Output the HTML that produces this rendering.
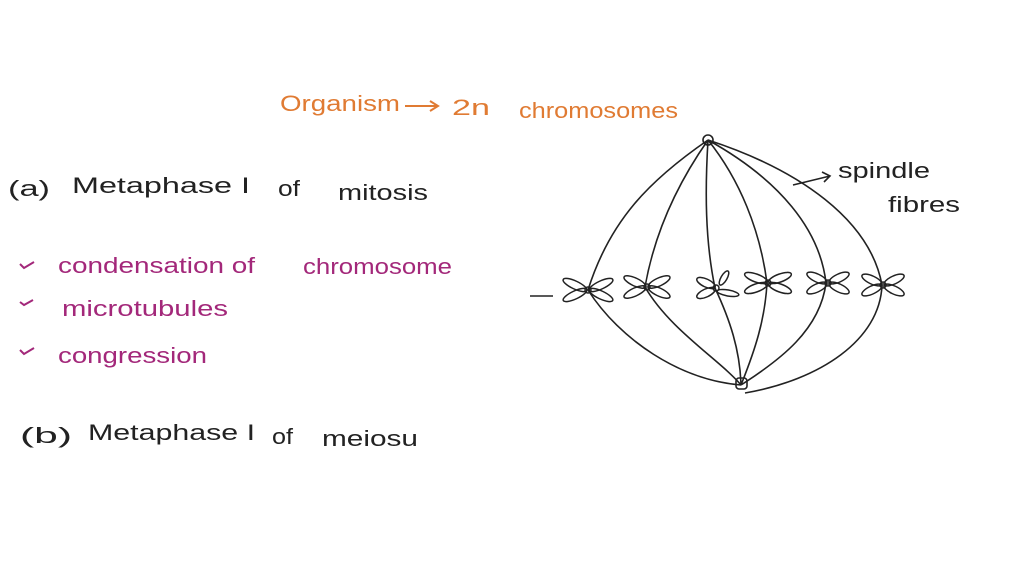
<!DOCTYPE html>
<html><head><meta charset="utf-8"><style>
html,body{margin:0;padding:0;background:#fff;}
svg{display:block;}
text{font-family:"Liberation Sans","DejaVu Sans",sans-serif;}
</style></head><body>
<svg width="1024" height="576" viewBox="0 0 1024 576" xmlns="http://www.w3.org/2000/svg">
<rect width="1024" height="576" fill="#fff"/>
<g font-size="22" fill="#e07b33">
<text x="280" y="111" textLength="120" lengthAdjust="spacingAndGlyphs">Organism</text>
<text x="452" y="115" textLength="38" lengthAdjust="spacingAndGlyphs">2n</text>
<text x="519" y="118" textLength="159" lengthAdjust="spacingAndGlyphs">chromosomes</text>
</g>
<path d="M405 106 L438 106 M430 101 L438 106 L430 111" stroke="#e07b33" stroke-width="2" fill="none"/>
<g font-size="22" fill="#222">
<text x="8" y="196" textLength="42" lengthAdjust="spacingAndGlyphs">(a)</text>
<text x="72" y="193" textLength="178" lengthAdjust="spacingAndGlyphs">Metaphase I</text>
<text x="278" y="196" textLength="22" lengthAdjust="spacingAndGlyphs">of</text>
<text x="338" y="200" textLength="90" lengthAdjust="spacingAndGlyphs">mitosis</text>
<text x="20" y="443" textLength="52" lengthAdjust="spacingAndGlyphs">(b)</text>
<text x="88" y="440" textLength="167" lengthAdjust="spacingAndGlyphs">Metaphase I</text>
<text x="272" y="444" textLength="21" lengthAdjust="spacingAndGlyphs">of</text>
<text x="322" y="446" textLength="96" lengthAdjust="spacingAndGlyphs">meiosu</text>
<text x="838" y="178" textLength="92" lengthAdjust="spacingAndGlyphs">spindle</text>
<text x="888" y="212" textLength="72" lengthAdjust="spacingAndGlyphs">fibres</text>
</g>
<g font-size="22" fill="#a3287a">
<text x="58" y="273" textLength="197" lengthAdjust="spacingAndGlyphs">condensation of</text>
<text x="303" y="274" textLength="149" lengthAdjust="spacingAndGlyphs">chromosome</text>
<text x="62" y="316" textLength="166" lengthAdjust="spacingAndGlyphs">microtubules</text>
<text x="58" y="363" textLength="149" lengthAdjust="spacingAndGlyphs">congression</text>
</g>
<g stroke="#a3287a" stroke-width="2" fill="none">
<path d="M20 264 l4 4 l10 -6"/><path d="M20 302 l4 3 l9 -5"/><path d="M20 350 l4 4 l10 -6"/>
</g>
<g stroke="#222" stroke-width="1.6" fill="none">
<path d="M793 185 L830 176 M822 172 L830 176 L824 182"/>
<path d="M530 296 L553 296"/>
<path d="M708 140 C650 180 610 220 588 290"/>
<path d="M708 140 C680 180 655 230 645 287"/>
<path d="M708 140 C705 190 705 240 715 288"/>
<path d="M708 140 C740 180 760 230 767 283"/>
<path d="M708 140 C780 180 820 230 826 283"/>
<path d="M708 140 C800 170 870 220 882 285"/>
<path d="M588 290 C620 340 680 380 741 385"/>
<path d="M645 287 C670 330 720 360 741 385"/>
<path d="M715 288 C730 320 740 350 741 385"/>
<path d="M767 283 C765 320 755 350 741 385"/>
<path d="M826 283 C820 330 780 360 741 385"/>
<path d="M882 285 C880 340 820 380 745 393"/>
<circle cx="708" cy="140" r="5"/>
<rect x="736" y="378" width="11" height="11" rx="3"/>
</g>
<g stroke="#222" stroke-width="1.5" fill="none">
<g transform="translate(588,290)"><ellipse cx="-13" cy="-5" rx="13" ry="4" transform="rotate(25 -13 -5)"/><ellipse cx="13" cy="-5" rx="13" ry="4" transform="rotate(-25 13 -5)"/><ellipse cx="-13" cy="5" rx="13" ry="4" transform="rotate(-25 -13 5)"/><ellipse cx="13" cy="5" rx="13" ry="4" transform="rotate(25 13 5)"/><circle r="3"/></g>
<g transform="translate(647,287)"><ellipse cx="-12" cy="-5" rx="12" ry="4" transform="rotate(25 -12 -5)"/><ellipse cx="12" cy="-5" rx="12" ry="4" transform="rotate(-25 12 -5)"/><ellipse cx="-12" cy="5" rx="12" ry="4" transform="rotate(-25 -12 5)"/><ellipse cx="12" cy="5" rx="12" ry="4" transform="rotate(25 12 5)"/><circle r="3"/></g>
<g transform="translate(716,288)"><ellipse cx="-10" cy="-5" rx="10" ry="4" transform="rotate(25 -10 -5)"/><ellipse cx="8" cy="-10" rx="8" ry="3" transform="rotate(-60 8 -10)"/><ellipse cx="-10" cy="5" rx="10" ry="4" transform="rotate(-25 -10 5)"/><ellipse cx="12" cy="5" rx="11" ry="3" transform="rotate(10 12 5)"/><circle r="3"/></g>
<g transform="translate(768,283)"><ellipse cx="-12" cy="-5" rx="12" ry="4" transform="rotate(20 -12 -5)"/><ellipse cx="12" cy="-5" rx="12" ry="4" transform="rotate(-20 12 -5)"/><ellipse cx="-12" cy="5" rx="12" ry="4" transform="rotate(-20 -12 5)"/><ellipse cx="12" cy="5" rx="12" ry="4" transform="rotate(20 12 5)"/><circle r="3"/></g>
<g transform="translate(828,283)"><ellipse cx="-11" cy="-5" rx="11" ry="4" transform="rotate(25 -11 -5)"/><ellipse cx="11" cy="-5" rx="11" ry="4" transform="rotate(-25 11 -5)"/><ellipse cx="-11" cy="5" rx="11" ry="4" transform="rotate(-25 -11 5)"/><ellipse cx="11" cy="5" rx="11" ry="4" transform="rotate(25 11 5)"/><circle r="3"/></g>
<g transform="translate(883,285)"><ellipse cx="-11" cy="-5" rx="11" ry="4" transform="rotate(25 -11 -5)"/><ellipse cx="11" cy="-5" rx="11" ry="4" transform="rotate(-25 11 -5)"/><ellipse cx="-11" cy="5" rx="11" ry="4" transform="rotate(-25 -11 5)"/><ellipse cx="11" cy="5" rx="11" ry="4" transform="rotate(25 11 5)"/><circle r="3"/></g>
</g>
</svg>
</body></html>
